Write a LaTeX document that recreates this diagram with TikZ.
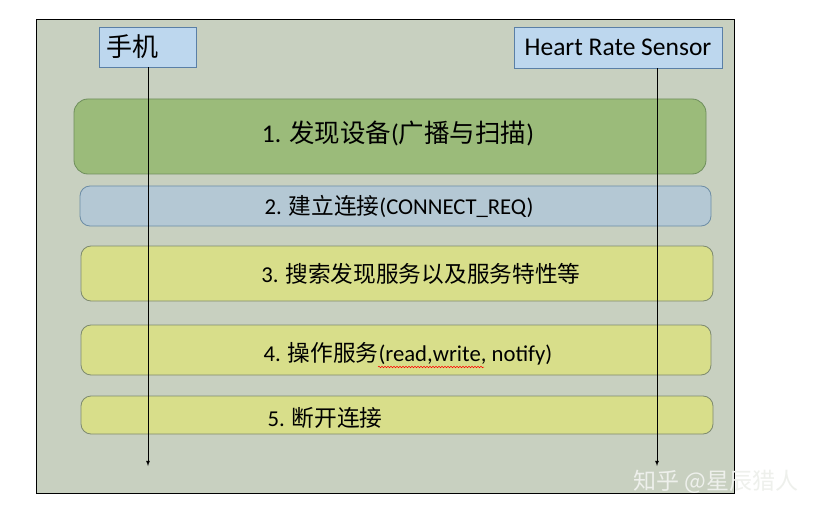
\documentclass[tikz,border=0pt]{standalone}
\usepackage{fontspec}
\setmainfont{Carlito}
\newfontfamily\zhfont{Noto Sans CJK SC}
\newcommand{\zh}[1]{{\zhfont #1}}
\usepackage{xcolor}
\usetikzlibrary{decorations.pathmorphing}

\definecolor{framebg}{HTML}{C8D0C0}
\definecolor{actorbg}{HTML}{BDD7EE}
\definecolor{actorline}{HTML}{5A7FA6}
\definecolor{greenbg}{HTML}{9BBB7A}
\definecolor{greenline}{HTML}{6E8E5C}
\definecolor{bluebg}{HTML}{B4C8D4}
\definecolor{blueline}{HTML}{6D8DA6}
\definecolor{yellowbg}{HTML}{D8DE8A}
\definecolor{yellowline}{HTML}{7E8A6E}
\definecolor{marktext}{HTML}{EEF0EC}

\begin{document}
\begin{tikzpicture}[x=1pt, y=-1pt, >=latex,
    frame/.style={draw=black, fill=framebg, line width=0.9pt},
    actor/.style={draw=actorline, fill=actorbg, inner sep=0pt},
    phase/.style={rounded corners=10pt, inner sep=0pt, line width=0.8pt},
    steptext/.style={inner sep=1pt, font=\fontsize{22.7}{26}\selectfont},
    lifeline/.style={->, line width=0.8pt},
    spell/.style={red, line width=0.5pt,
      decorate, decoration={snake, amplitude=0.8pt, segment length=3pt}},
    watermarktext/.style={marktext, font=\fontsize{23}{26}\selectfont\zhfont}]
    \useasboundingbox [fill=white] (0, 0) rectangle (825, 516);

    \path (385, 256) node [frame, minimum width=698, minimum height=474] (fr) {};

    \path (147.5, 47) node [actor, minimum height=40, text width=82,
      inner xsep=7.5, align=left, font=\fontsize{26}{30}\selectfont] (ph) {\zh{手机}};
    \path (618, 47.5) node [actor, minimum width=208, minimum height=41,
      font=\fontsize{25.5}{30}\selectfont] (hr) {Heart Rate Sensor};

    \path (390, 136.5) node [phase, draw=greenline, fill=greenbg, rounded corners=14pt,
      minimum width=632, minimum height=75] (s1) {};
    \path (395.5, 206) node [phase, draw=blueline, fill=bluebg,
      minimum width=631, minimum height=40] (s2) {};
    \path (397, 273.5) node [phase, draw=yellowline, fill=yellowbg,
      minimum width=632, minimum height=55] (s3) {};
    \path (396, 350) node [phase, draw=yellowline, fill=yellowbg,
      minimum width=630, minimum height=50] (s4) {};
    \path (397, 415) node [phase, draw=yellowline, fill=yellowbg,
      minimum width=632, minimum height=38] (s5) {};

    \path (398, 134) node [steptext, font=\fontsize{25.5}{30}\selectfont] (t1)
      {1. \zh{发现设备}(\zh{广播与扫描})};
    \path (399, 206) node [steptext] (t2) {2. \zh{建立连接}(CONNECT\_REQ)};
    \path (421, 274) node [steptext] (t3) {3. \zh{搜索发现服务以及服务特性等}};
    \path (408, 354) node [steptext] (t4) {4. \zh{操作服务}(read,write, notify)};
    \path (325, 418) node [steptext] (t5) {5. \zh{断开连接}};

    % spell-check mark under read,write
    \path (378, 367) coordinate (sq1) (484, 367) coordinate (sq2);
    \draw [spell] (sq1) -- (sq2);

    % lifelines
    \path (148, 466) coordinate (phend) (657, 466) coordinate (hrend);
    \draw [lifeline] (ph.south -| phend) -- (phend);
    \draw [lifeline] (hr.south -| hrend) -- (hrend);

    \path (716, 482) node [watermarktext] (wm) {知乎 @星辰猎人};
\end{tikzpicture}
\end{document}
